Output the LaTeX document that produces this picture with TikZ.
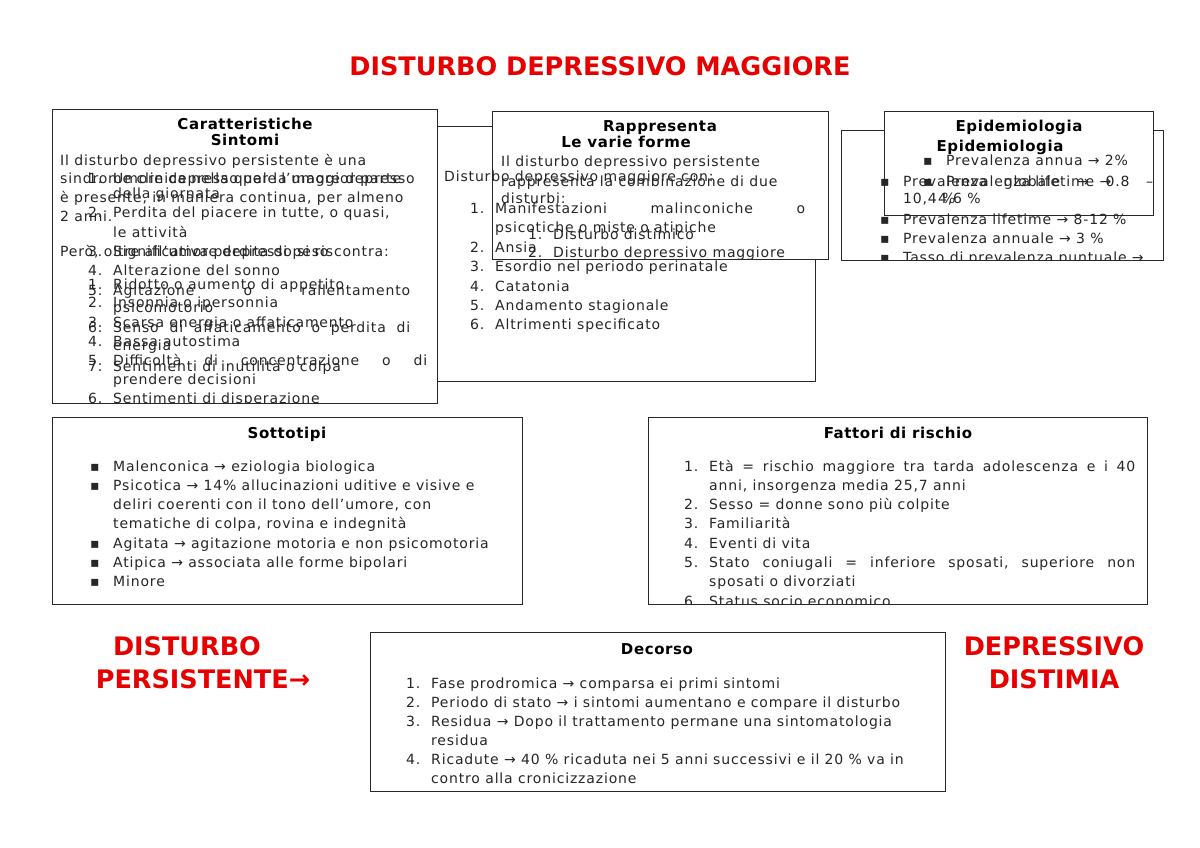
\documentclass[tikz,border=0pt]{standalone}
\usepackage{fontspec}
\setmainfont{DejaVu Sans}
\newfontfamily\bodyf[LetterSpace=6]{DejaVu Sans}
\newfontfamily\ttlf[LetterSpace=4]{DejaVu Sans}
\definecolor{tred}{RGB}{230,0,0}
\definecolor{bline}{RGB}{40,40,40}
\tikzset{
 txt/.style={anchor=base west,inner sep=0pt,font=\bodyf\fontsize{14}{16}\selectfont,text=black!85},
 ttl/.style={anchor=base,inner sep=0pt,font=\ttlf\fontsize{15}{17}\selectfont\bfseries},
 big/.style={anchor=base,inner sep=0pt,font=\fontsize{25.5}{28}\selectfont\bfseries,text=tred},
 boxx/.style={draw=bline,line width=1pt,fill=white}
}
\newcommand\tl[3]{\node[txt] at (#1,#2+5) {#3};}
\newcommand\jl[4]{\node[txt] at (#1,#2+5) {\hbox to #3pt{#4}};}
\newcommand\nm[4]{\node[txt] at (#1-25,#2+5) {#3};\node[txt] at (#1,#2+5) {#4};}
\newcommand\bl[3]{\node[txt] at (#1-23,#2+5) {▪};\node[txt] at (#1,#2+5) {#3};}
\begin{document}
\begin{tikzpicture}[x=1pt,y=-1pt]
\useasboundingbox[fill=white] (0,0) rectangle (1200,848);
\node[big] (main) at (600,76) {DISTURBO DEPRESSIVO MAGGIORE};
\node[big] (dp1) at (187,655) {DISTURBO};
\node[big] (dp2) at (203,688) {PERSISTENTE→};
\node[big] (dd1) at (1054,655) {DEPRESSIVO};
\node[big] (dd2) at (1054,688) {DISTIMIA};
% boxes
\draw[boxx] (430,127) rectangle (815,381);
\draw[boxx] (52,110) rectangle (437,403);
\draw[boxx] (492,112) rectangle (828,259);
\draw[boxx] (841,131) rectangle (1163,260);
\draw[boxx] (884,112) rectangle (1153,215);
\draw[boxx] (52,417) rectangle (522,604);
\draw[boxx] (648,417) rectangle (1147,604);
\draw[boxx] (370,632) rectangle (945,791);
% Caratteristiche
\begin{scope}
\clip (52,110) rectangle (437,402);
\node[ttl] at (245,130) {Caratteristiche};
\node[ttl] at (245,146) {Sintomi};
\tl{60}{160}{Il disturbo depressivo persistente è una}
\tl{60}{179}{sindrome clinica nella quale l’umore depresso}
\tl{60}{198}{è presente, in maniera continua, per almeno}
\tl{60}{216}{2 anni.}
\tl{60}{251}{Però, oltre all’umore depresso si riscontra:}
\nm{113}{178}{1.}{Umore depresso per la maggior parte}
\tl{113}{194}{della giornata}
\nm{113}{213}{2.}{Perdita del piacere in tutte, o quasi,}
\tl{113}{232}{le attività}
\nm{113}{251}{3.}{Significativa perdita di peso}
\nm{113}{270}{4.}{Alterazione del sonno}
\node[txt] at (88,295) {5.};\jl{113}{290}{297}{Agitazione\hfill o\hfill rallentamento}
\tl{113}{307}{psicomotorio}
\node[txt] at (88,332) {6.};\jl{113}{327}{297}{Senso\hfill di\hfill affaticamento\hfill o\hfill perdita\hfill di}
\tl{113}{345}{energia}
\nm{113}{366}{7.}{Sentimenti di inutilità o colpa}
\nm{113}{284}{1.}{Ridotto o aumento di appetito}
\nm{113}{302}{2.}{Insonnia o ipersonnia}
\nm{113}{322}{3.}{Scarsa energia o affaticamento}
\nm{113}{341}{4.}{Bassa autostima}
\node[txt] at (88,365) {5.};\jl{113}{360}{314}{Difficoltà\hfill di\hfill concentrazione\hfill o\hfill di}
\tl{113}{379}{prendere decisioni}
\nm{113}{398}{6.}{Sentimenti di disperazione}
\end{scope}
% middle
\begin{scope}
\clip (430,112) rectangle (828,381);
\tl{444}{177}{Disturbo depressivo maggiore con:}
\node[txt] at (470,214) {1.};\jl{495}{209}{310}{Manifestazioni\hfill malinconiche\hfill o}
\tl{495}{228}{psicotiche o miste o atipiche}
\nm{495}{247}{2.}{Ansia}
\nm{495}{266}{3.}{Esordio nel periodo perinatale}
\nm{495}{286}{4.}{Catatonia}
\nm{495}{305}{5.}{Andamento stagionale}
\nm{495}{324}{6.}{Altrimenti specificato}
\end{scope}
\begin{scope}
\clip (492,112) rectangle (828,258);
\node[ttl] at (660,132) {Rappresenta};
\node[ttl] at (626,148) {Le varie forme};
\tl{501}{162}{Il disturbo depressivo persistente}
\tl{501}{181}{rappresenta la combinazione di due}
\tl{501}{199}{disturbi:}
\nm{553}{234}{1.}{Disturbo distimico}
\nm{553}{252}{2.}{Disturbo depressivo maggiore}
\end{scope}
% epidemiologia
\begin{scope}
\clip (841,112) rectangle (1163,259);
\node[ttl] at (1019,132) {Epidemiologia};
\node[ttl] at (1000,152) {Epidemiologia};
\bl{946}{161}{Prevalenza annua → 2\%}
\bl{946}{181}{Prevalenza lifetime →}
\tl{938}{199}{4,6 \%}
\node[txt] at (880,186) {▪};\jl{903}{181}{250}{Prevalenza\hfill globale\hfill →\hfill 0.8\hfill –}
\tl{903}{199}{10,4 \%}
\bl{903}{219}{Prevalenza lifetime → 8-12 \%}
\bl{903}{238}{Prevalenza annuale → 3 \%}
\bl{903}{257}{Tasso di prevalenza puntuale →}
\end{scope}
% Sottotipi
\node[ttl] (st) at (287,438) {Sottotipi};
\bl{113}{466}{Malenconica → eziologia biologica}
\bl{113}{485}{Psicotica → 14\% allucinazioni uditive e visive e}
\tl{113}{504}{deliri coerenti con il tono dell’umore, con}
\tl{113}{523}{tematiche di colpa, rovina e indegnità}
\bl{113}{543}{Agitata → agitazione motoria e non psicomotoria}
\bl{113}{562}{Atipica → associata alle forme bipolari}
\bl{113}{581}{Minore}
% Fattori
\begin{scope}
\clip (648,417) rectangle (1147,603);
\node[ttl] (fr) at (898,438) {Fattori di rischio};
\node[txt] at (684,471) {1.};\jl{709}{466}{426}{Età\hfill =\hfill rischio\hfill maggiore\hfill tra\hfill tarda\hfill adolescenza\hfill e\hfill i\hfill 40}
\tl{709}{485}{anni, insorgenza media 25,7 anni}
\nm{709}{504}{2.}{Sesso = donne sono più colpite}
\nm{709}{523}{3.}{Familiarità}
\nm{709}{543}{4.}{Eventi di vita}
\node[txt] at (684,567) {5.};\jl{709}{562}{426}{Stato\hfill coniugali\hfill =\hfill inferiore\hfill sposati,\hfill superiore\hfill non}
\tl{709}{581}{sposati o divorziati}
\nm{709}{601}{6.}{Status socio economico}
\end{scope}
% Decorso
\node[ttl] (dc) at (657,654) {Decorso};
\nm{431}{683}{1.}{Fase prodromica → comparsa ei primi sintomi}
\nm{431}{702}{2.}{Periodo di stato → i sintomi aumentano e compare il disturbo}
\nm{431}{721}{3.}{Residua → Dopo il trattamento permane una sintomatologia}
\tl{431}{740}{residua}
\nm{431}{759}{4.}{Ricadute → 40 \% ricaduta nei 5 anni successivi e il 20 \% va in}
\tl{431}{778}{contro alla cronicizzazione}
\end{tikzpicture}
\end{document}
